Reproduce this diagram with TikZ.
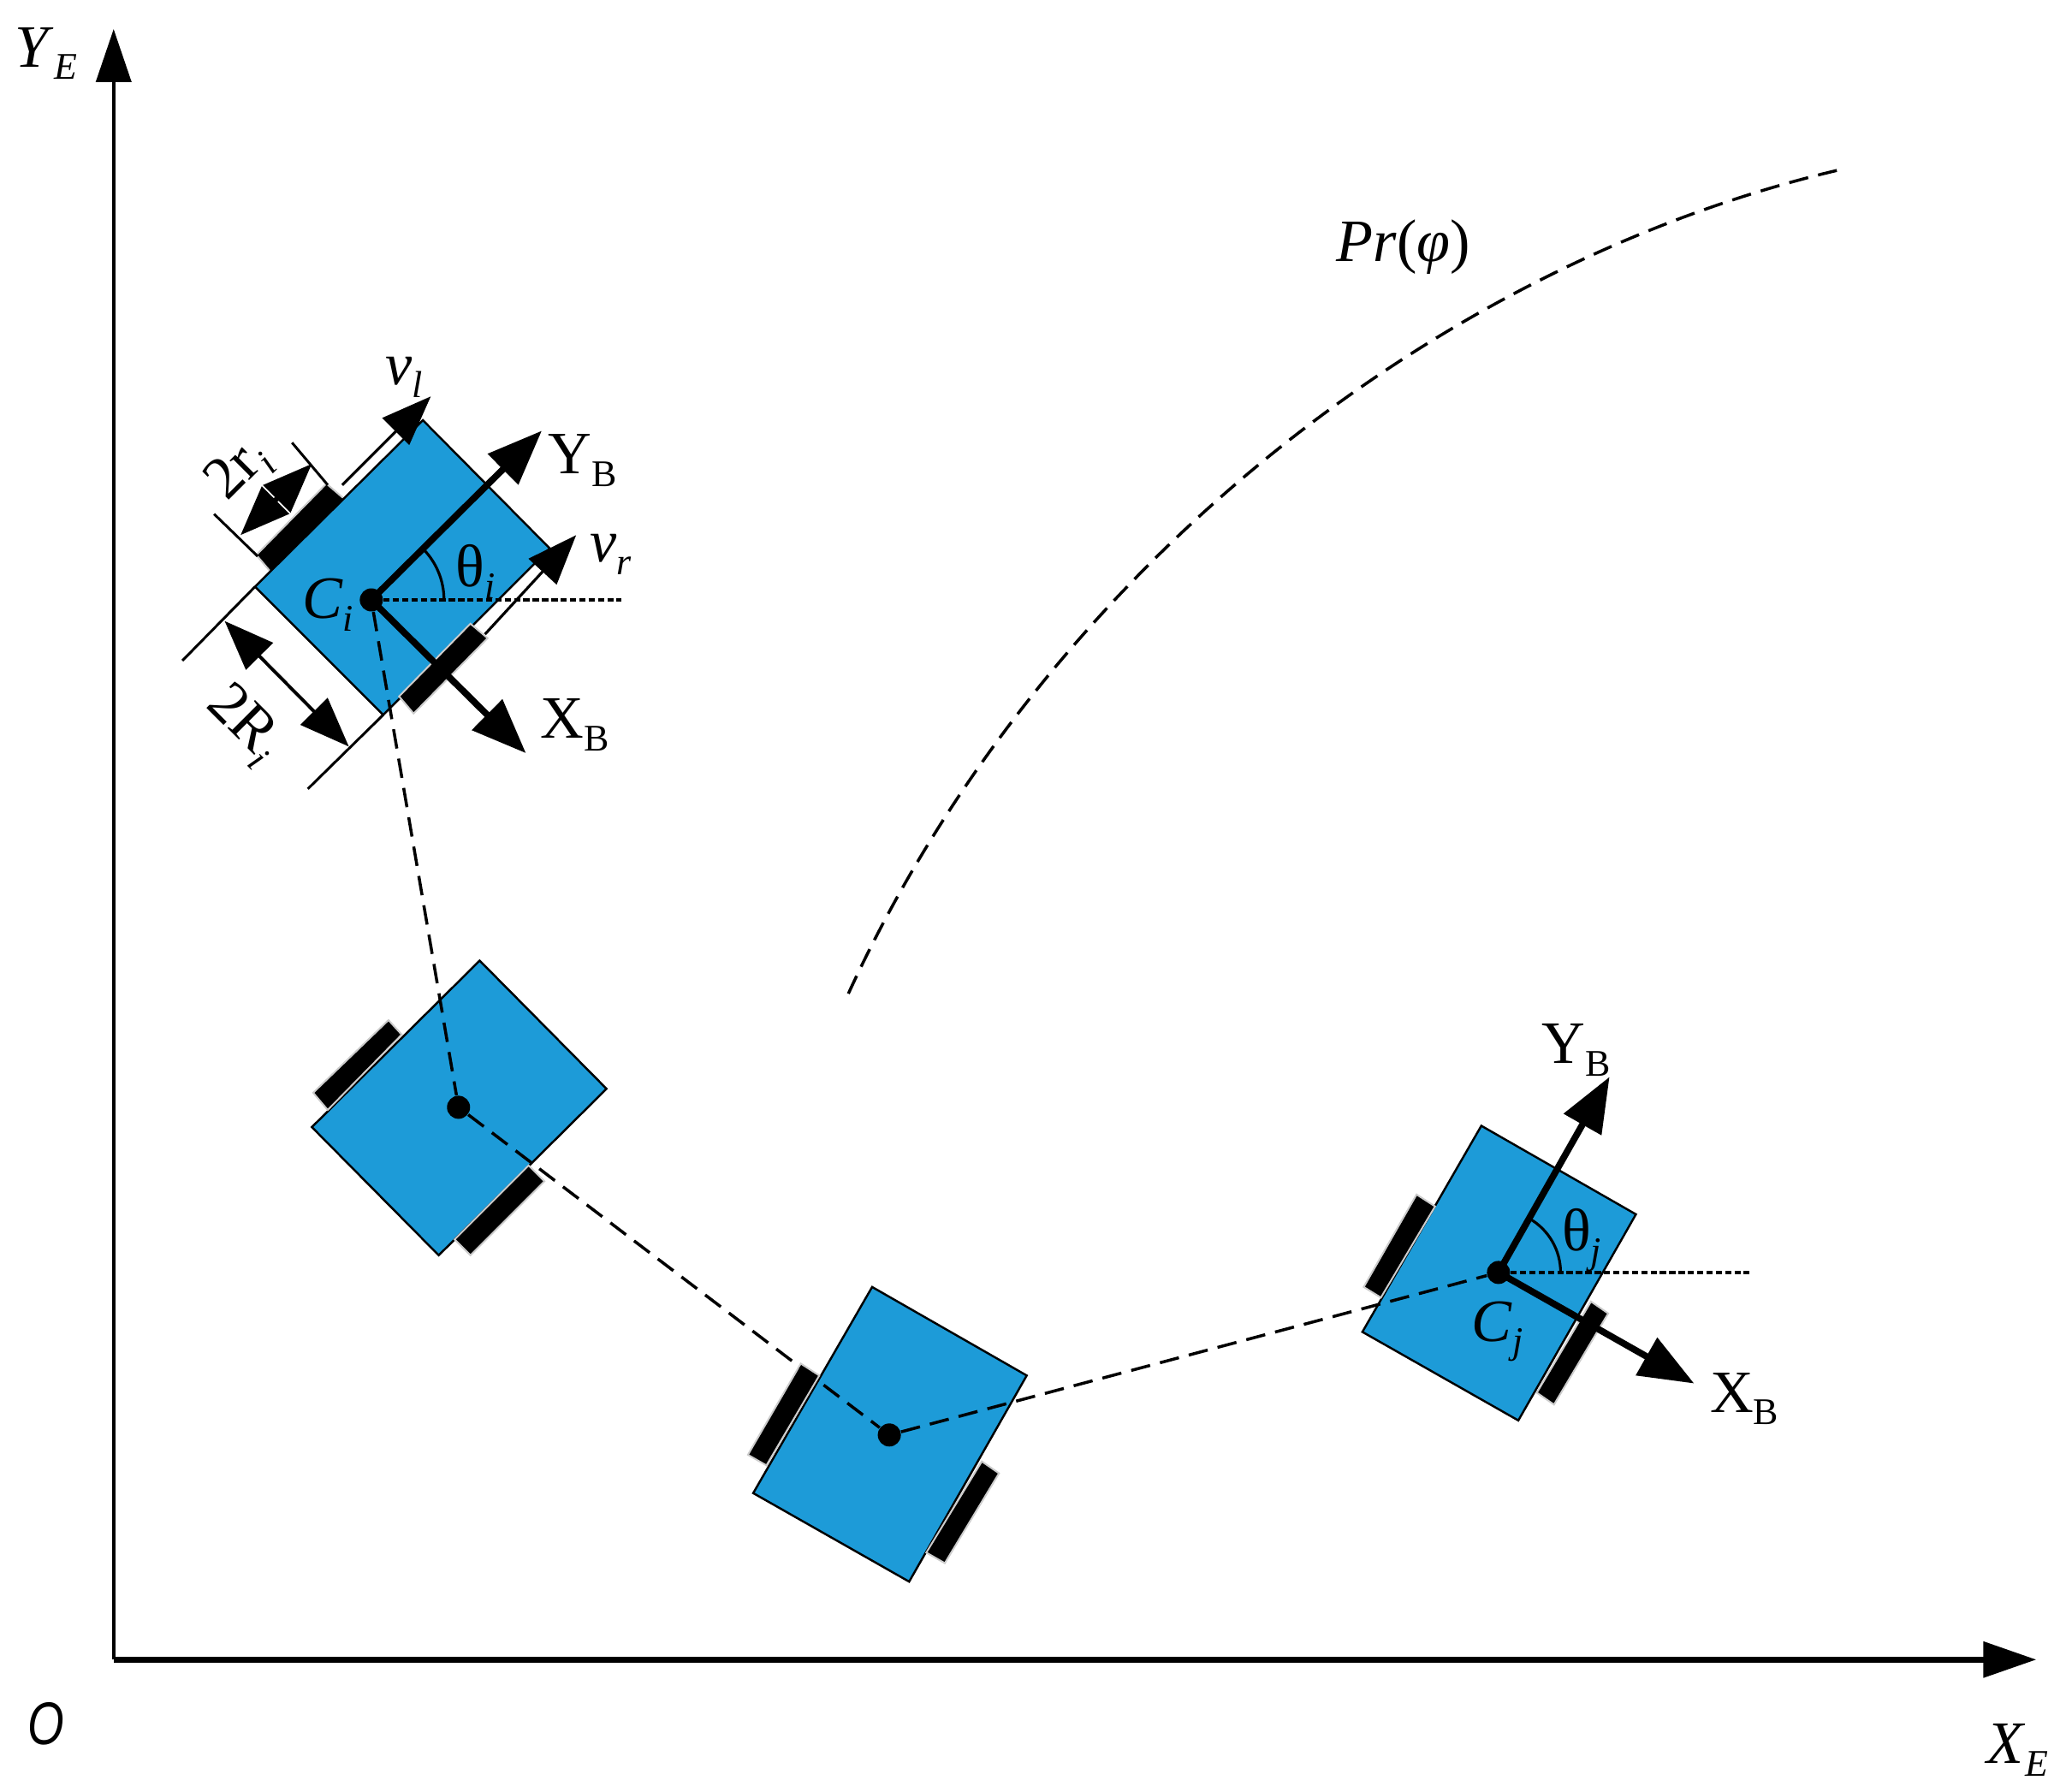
\documentclass[tikz,border=0pt]{standalone}
\usepackage{fontspec}
\setmainfont{Liberation Serif}
\newfontfamily\originfont{Liberation Sans}
\usetikzlibrary{arrows.meta}
\def\lowsub#1#2{#1\raisebox{-0.45ex}{\fontsize{12.5}{12.5}\selectfont #2}}
\tikzset{
	bodybox/.style={draw=black, line width=0.7pt, fill=bodyblue},
	wheelbar/.style={draw=black!20, line width=0.2mm, fill=black},
	dotmark/.style={circle, fill=black, inner sep=0pt, minimum size=2.7mm},
	trackline/.style={line width=1pt, dash pattern=on 6.5pt off 3.4pt},
	refline/.style={line width=1pt, dash pattern=on 2.1pt off 1pt},
	frameaxis/.style={-{Triangle[length=6.2mm,width=4.1mm]}},
	thickarrow/.style={line width=2.2pt, -{Triangle[length=6.4mm,width=4.9mm]}},
	thinarrow/.style={line width=0.9pt, -{Triangle[length=5.8mm,width=4.4mm]}},
	dimarrow/.style={line width=1.1pt, {Triangle[length=5.8mm,width=4.4mm]}-{Triangle[length=5.8mm,width=4.4mm]}},
	labeltext/.style={inner sep=0pt, yshift=-0.4mm, font=\fontsize{20}{20}\selectfont}
}
\definecolor{bodyblue}{HTML}{1D9BD8}

\begin{document}
\begin{tikzpicture}[x=0.01544cm, y=-0.01544cm]
	%%%%% START %%%%%
	\useasboundingbox (0, 0) rectangle (1568, 1356.2);

	\coordinate (origin) at (86, 1256);
	\coordinate (yend) at (86, 22);
	\coordinate (xend) at (1541, 1256);
	\draw[frameaxis, line width=1.15pt] (origin) -- (yend);
	\draw[frameaxis, line width=1.9pt] (origin) -- (xend);

	% robots
	\draw[wheelbar] (194, 420) -- (247, 366) -- (261, 378) -- (205, 433) -- cycle;
	\draw[bodybox] (320, 318) -- (416, 415) -- (290, 541) -- (193, 444) -- cycle;
	\draw[wheelbar] (302, 527) -- (356, 472) -- (369, 483) -- (313, 540) -- cycle;

	\draw[bodybox] (363, 727) -- (459, 824) -- (332, 950) -- (236, 853) -- cycle;
	\draw[wheelbar] (237, 827) -- (294, 772) -- (304, 783) -- (248, 840) -- cycle;
	\draw[wheelbar] (344, 938) -- (400, 882) -- (412, 894) -- (356, 950) -- cycle;

	\draw[bodybox] (660, 974) -- (777, 1041) -- (688, 1197) -- (570, 1130) -- cycle;
	\draw[wheelbar] (566, 1101) -- (606, 1032) -- (620, 1041) -- (580, 1109) -- cycle;
	\draw[wheelbar] (701, 1175) -- (743, 1106) -- (756, 1115) -- (715, 1183) -- cycle;

	\draw[bodybox] (1121, 852) -- (1238, 919) -- (1149, 1075) -- (1031, 1008) -- cycle;
	\draw[wheelbar] (1032, 974) -- (1072, 904) -- (1086, 913) -- (1045, 982) -- cycle;
	\draw[wheelbar] (1163, 1054) -- (1204, 985) -- (1217, 994) -- (1176, 1063) -- cycle;

	\node[dotmark] (Ci) at (281, 454) {};
	\node[dotmark] (Cb) at (347, 838) {};
	\node[dotmark] (Cc) at (673, 1086) {};
	\node[dotmark] (Cj) at (1134, 963) {};

	% formation links
	\draw[trackline] (Ci) -- (Cb);
	\draw[trackline] (Cb) -- (Cc);
	\draw[trackline] (Cc) -- (Cj);
	\draw[trackline] (642, 752) .. controls (790, 430) and (1090, 200) .. (1390, 129);

	% body frame i
	\coordinate (ybi) at (410, 326);
	\coordinate (xbi) at (398, 570);
	\coordinate (refi) at (470, 454);
	\draw[thickarrow] (Ci.center) -- (ybi);
	\draw[thickarrow] (Ci.center) -- (xbi);
	\draw[refline] (Ci) -- (refi);
	\draw[line width=0.9pt] (336, 454) arc (0:-45:55);

	\coordinate (vls) at (259, 367);
	\coordinate (vle) at (326, 300);
	\coordinate (vrs) at (367, 480);
	\coordinate (vre) at (436, 405);
	\draw[thinarrow] (vls) -- (vle);
	\draw[thinarrow] (vrs) -- (vre);

	% dimensions
	\coordinate (ra) at (162, 389);
	\coordinate (rb) at (195, 421);
	\coordinate (rc) at (221, 335);
	\coordinate (rd) at (248, 367);
	\draw[line width=0.85pt] (ra) -- (rb);
	\draw[line width=0.85pt] (rc) -- (rd);
	\coordinate (rdima) at (182, 405);
	\coordinate (rdimb) at (236, 351);
	\draw[dimarrow, line width=1.7pt] (rdima) -- (rdimb);

	\coordinate (Ra) at (138, 500);
	\coordinate (Rb) at (193, 444);
	\coordinate (Rc) at (233, 597);
	\coordinate (Rd) at (290, 541);
	\draw[line width=0.85pt] (Ra) -- (Rb);
	\draw[line width=0.85pt] (Rc) -- (Rd);
	\coordinate (Rdima) at (170, 470);
	\coordinate (Rdimb) at (264, 565);
	\draw[dimarrow] (Rdima) -- (Rdimb);

	% body frame j
	\coordinate (ybj) at (1218, 815);
	\coordinate (xbj) at (1282, 1047);
	\coordinate (refj) at (1324, 963);
	\draw[thickarrow] (Cj.center) -- (ybj);
	\draw[thickarrow] (Cj.center) -- (xbj);
	\draw[refline] (Cj) -- (refj);
	\draw[line width=0.9pt] (1181, 963) arc (0:-60:47);

	% labels
	\node[labeltext] (ye) at (35, 38) {\lowsub{\textit{Y}}{\textit{E}}};
	\node[labeltext] (xe) at (1527, 1322) {\lowsub{\textit{X}}{\textit{E}}};
	\node[labeltext] (oo) at (35, 1302) {\originfont\itshape\scalebox{0.78}[1]{O}};
	\node[labeltext] (pr) at (1062, 184) {\textit{Pr}(\textit{φ})};

	\node[labeltext] (vl) at (306, 283) {\lowsub{\textit{v}}{\textit{l}}};
	\node[labeltext] (vr) at (462, 417) {\lowsub{\textit{v}}{\textit{r}}};
	\node[labeltext] (lybi) at (441, 346) {\lowsub{Y}{B}};
	\node[labeltext] (lxbi) at (435, 546) {\lowsub{X}{B}};
	\node[labeltext] (thi) at (360, 430) {\lowsub{θ}{\textit{i}}};
	\node[labeltext] (lci) at (248, 455) {\lowsub{\textit{C}}{\textit{i}}};
	\node[labeltext, rotate=45] (lr) at (181, 354) {\lowsub{2r}{\textit{i}}};
	\node[labeltext, rotate=-45] (lR) at (184, 546) {\lowsub{2R}{\textit{i}}};

	\node[labeltext] (lybj) at (1193, 792) {\lowsub{Y}{B}};
	\node[labeltext] (lxbj) at (1320, 1056) {\lowsub{X}{B}};
	\node[labeltext] (thj) at (1197, 936) {\lowsub{θ}{\textit{j}}};
	\node[labeltext] (lcj) at (1133, 1005) {\lowsub{\textit{C}}{\textit{j}}};
	%%%%% END %%%%%
\end{tikzpicture}
\end{document}
